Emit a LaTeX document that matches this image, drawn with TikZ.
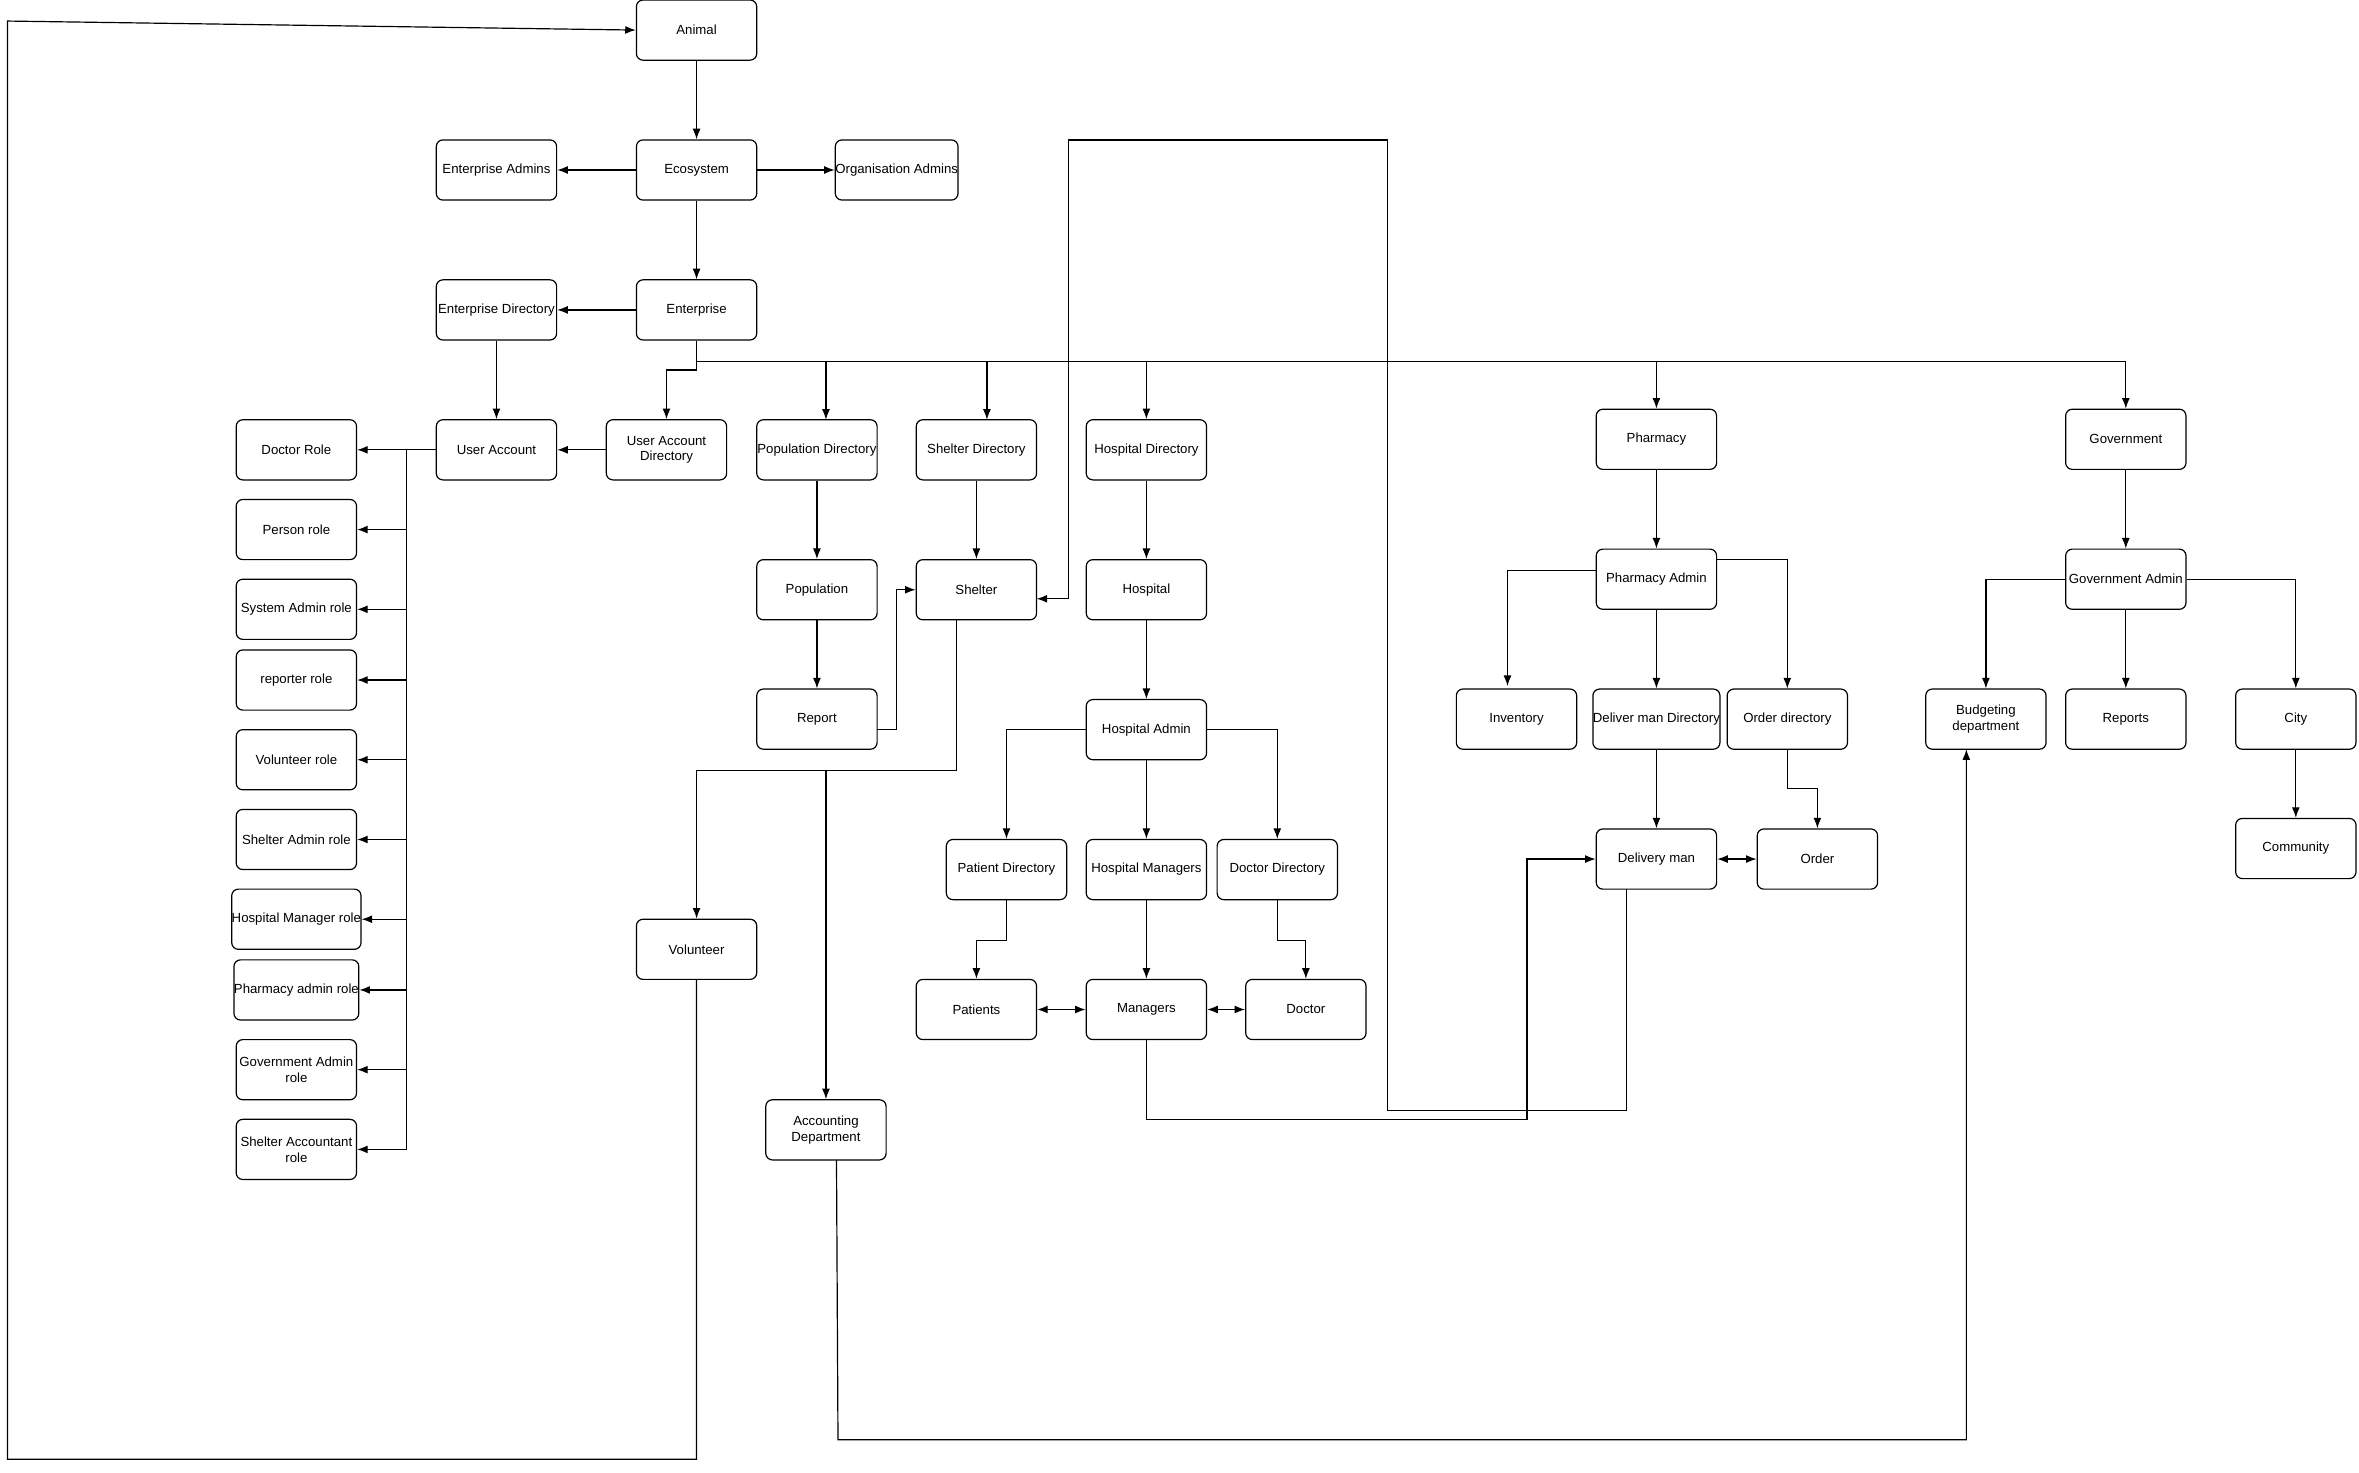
\documentclass[tikz,border=0pt]{standalone}
\usepackage{fontspec}
\setmainfont{Liberation Sans}
\usetikzlibrary{arrows.meta}
\begin{document}
\begin{tikzpicture}[x=0.02cm,y=-0.02cm,
 box/.style={draw,rounded corners=2.5pt,minimum width=1.6cm,minimum height=0.8cm,align=center,font=\fontsize{5}{6}\selectfont,inner sep=0pt,line width=0.45pt},
 arr/.style={-{Latex[length=4pt,width=3pt]},line width=0.45pt},
 darr/.style={{Latex[length=4pt,width=3pt]}-{Latex[length=4pt,width=3pt]},line width=0.45pt}]
\useasboundingbox (0,0) rectangle (1568,979);
\node[box] (animal) at (463,20) {Animal};
\node[box] (eco) at (463,113) {Ecosystem};
\node[box] (entadm) at (330,113) {Enterprise Admins};
\node[box] (orgadm) at (596,113) {Organisation Admins};
\node[box] (ent) at (463,206) {Enterprise};
\node[box] (entdir) at (330,206) {Enterprise Directory};
\node[box] (ua) at (330,299) {User Account};
\node[box] (uad) at (443,299) {User Account\\Directory};
\node[box] (popdir) at (543,299) {Population Directory};
\node[box] (shdir) at (649,299) {Shelter Directory};
\node[box] (hdir) at (762,299) {Hospital Directory};
\node[box] (pharm) at (1101,292) {Pharmacy};
\node[box] (gov) at (1413,292) {Government};
\node[box] (r1) at (197,299) {Doctor Role};
\node[box] (r2) at (197,352) {Person role};
\node[box] (r3) at (197,405) {System Admin role};
\node[box] (r4) at (197,452) {reporter role};
\node[box] (r5) at (197,505) {Volunteer role};
\node[box] (r6) at (197,558) {Shelter Admin role};
\node[box] (r7) at (197,611) {Hospital Manager role};
\node[box] (r8) at (197,658) {Pharmacy admin role};
\node[box] (r9) at (197,711) {Government Admin\\role};
\node[box] (r10) at (197,764) {Shelter Accountant\\role};
\node[box] (pop) at (543,392) {Population};
\node[box] (rep) at (543,478) {Report};
\node[box] (sh) at (649,392) {Shelter};
\node[box] (hosp) at (762,392) {Hospital};
\node[box] (hadm) at (762,485) {Hospital Admin};
\node[box] (patdir) at (669,578) {Patient Directory};
\node[box] (hman) at (762,578) {Hospital Managers};
\node[box] (docdir) at (849,578) {Doctor Directory};
\node[box] (pat) at (649,671) {Patients};
\node[box] (man) at (762,671) {Managers};
\node[box] (doc) at (868,671) {Doctor};
\node[box] (vol) at (463,631) {Volunteer};
\node[box] (acc) at (549,751) {Accounting\\Department};
\node[box] (padm) at (1101,385) {Pharmacy Admin};
\node[box] (inv) at (1008,478) {Inventory};
\node[box] (ddir) at (1101,478) {Deliver man Directory};
\node[box] (odir) at (1188,478) {Order directory};
\node[box] (dman) at (1101,571) {Delivery man};
\node[box] (order) at (1208,571) {Order};
\node[box] (gadm) at (1413,385) {Government Admin};
\node[box] (bud) at (1320,478) {Budgeting\\department};
\node[box] (reps) at (1413,478) {Reports};
\node[box] (city) at (1526,478) {City};
\node[box] (comm) at (1526,564) {Community};
% top
\draw[arr] (animal) -- (eco);
\draw[arr] (eco) -- (entadm);
\draw[arr] (eco) -- (orgadm);
\draw[arr] (eco) -- (ent);
\draw[arr] (ent) -- (entdir);
\draw[arr] (entdir) -- (ua);
\draw[arr] (uad) -- (ua);
\draw[arr] (ent.south) -- (463,246) -| (uad.north);
\draw (463,240) -- (1413,240);
\draw[arr] (549,240) -- (549,279);
\draw[arr] (656,240) -- (656,279);
\draw[arr] (762,240) -- (hdir.north);
\draw[arr] (1101,240) -- (pharm.north);
\draw[arr] (1413,240) -- (gov.north);
% roles
\coordinate (bus) at (270,299);
\draw (ua.west) -- (bus) -- (270,764);
\foreach \r in {r1,r2,r3,r4,r5,r6,r7,r8,r9,r10} \draw[arr] (bus) |- (\r.east);
% population / shelter
\draw[arr] (popdir) -- (pop);
\draw[arr] (pop) -- (rep);
\draw[arr] (583,485) -- (596,485) |- (sh.west);
\draw[arr] (shdir) -- (sh);
\draw (636,412) -- (636,512) -- (463,512);
\draw[arr] (463,512) -- (vol.north);
\draw[arr] (549,512) -- (acc.north);
% hospital
\draw[arr] (hdir) -- (hosp);
\draw[arr] (hosp) -- (hadm);
\draw[arr] (hadm.west) -| (patdir.north);
\draw[arr] (hadm.east) -| (docdir.north);
\draw[arr] (hadm) -- (hman);
\draw[arr] (patdir.south) -- (669,625) -| (pat.north);
\draw[arr] (docdir.south) -- (849,625) -| (doc.north);
\draw[arr] (hman) -- (man);
\draw[darr] (pat) -- (man);
\draw[darr] (man) -- (doc);
\draw[arr] (man.south) -- (762,744) -- (1015,744) |- (dman.west);
\draw[arr] (1081,591) -- (1081,738) -- (922,738) -- (922,93) -- (710,93) |- (689,398);
% pharmacy
\draw[arr] (pharm) -- (padm);
\draw[arr] (1061,379) -- (1002,379) -- (1002,456);
\draw[arr] (1141,372) -| (odir.north);
\draw[arr] (padm) -- (ddir);
\draw[arr] (ddir) -- (dman);
\draw[arr] (odir.south) -- (1188,524) -| (order.north);
\draw[darr] (dman) -- (order);
% government
\draw[arr] (gov) -- (gadm);
\draw[arr] (gadm.west) -| (bud.north);
\draw[arr] (gadm) -- (reps);
\draw[arr] (gadm.east) -| (city.north);
\draw[arr] (city) -- (comm);
% long
\draw[arr] (vol.south) -- (463,970) -- (5,970) -- (5,14) -- (animal.west);
\draw[arr] (556,771) -- (557,957) -- (1307,957) -- (1307,498);
\end{tikzpicture}
\end{document}
